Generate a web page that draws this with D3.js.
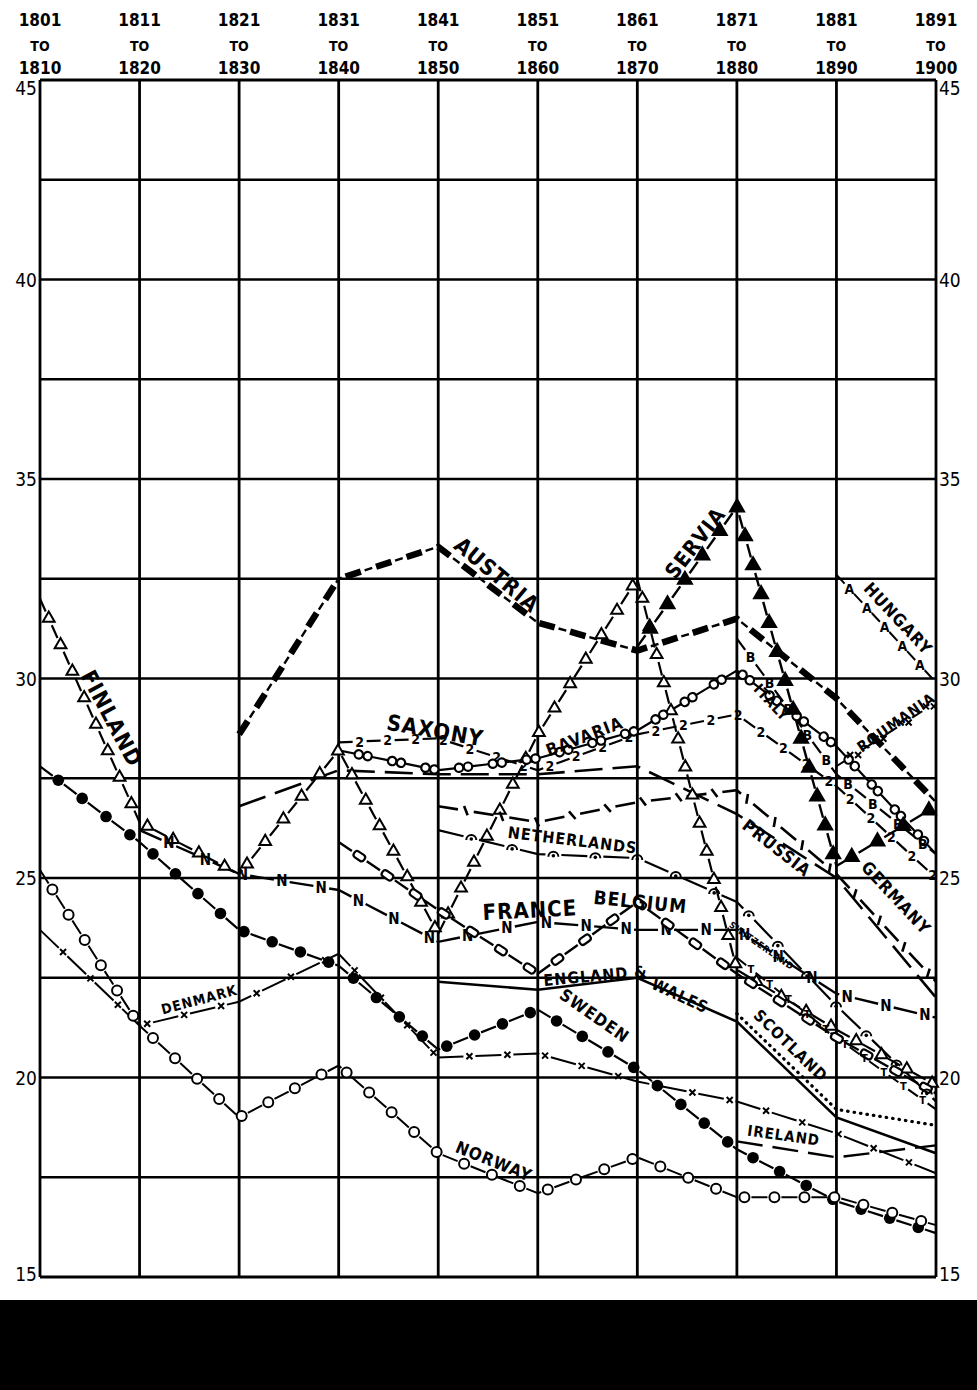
<!DOCTYPE html>
<html>
<head>
<meta charset="utf-8">
<script src="https://cdn.jsdelivr.net/npm/d3@7/dist/d3.min.js"></script>
<style>
  body { margin: 0; background: #fff; }
  svg { display: block; }
  text { font-family: "Liberation Sans Narrow", "DejaVu Sans Condensed", "DejaVu Sans", sans-serif; font-stretch: condensed; font-weight: bold; fill: #000; }
</style>
</head>
<body>
<div id="chart"></div>
<script>
// decades (top labels)
const decadeFrom = ['1801', '1811', '1821', '1831', '1841', '1851', '1861', '1871', '1881', '1891'];
const decadeTo = ['1810', '1820', '1830', '1840', '1850', '1860', '1870', '1880', '1890', '1900'];
const yTicks = [45, 40, 35, 30, 25, 20, 15];

// death rate per 1000, one value per decade (null = no line)
const finland = [32.0, 26.4, 25.1, 28.2, 23.6, 28.6, 32.5, 22.7, 21.2, 19.8];
const sweden = [27.8, 25.9, 23.7, 22.8, 20.7, 21.7, 20.2, 18.2, 16.9, 16.1];
const norway = [25.2, 21.3, 19.0, 20.3, 18.1, 17.1, 18.0, 17.0, 17.0, 16.3];
const denmark = [23.7, 21.3, 21.9, 23.1, 20.5, 20.6, 19.9, 19.4, 18.6, 17.6];
const france = [null, 26.2, 25.1, 24.7, 23.4, 23.9, 23.7, 23.7, 22.1, 21.5];
const austria = [null, null, 28.6, 32.5, 33.3, 31.4, 30.7, 31.5, 29.5, 26.9];
const saxony = [null, null, null, 28.4, 28.5, 27.7, 28.6, 29.1, 27.3, 25.0];
const bavaria = [null, null, null, 28.2, 27.7, 28.0, 28.7, 30.2, 28.3, 25.6];
const prussia = [null, null, 26.8, 27.7, 27.6, 27.6, 27.8, 26.6, 25.0, 22.0];
const germany = [null, null, null, null, 26.8, 26.4, 26.9, 27.2, 25.1, 22.4];
const belgium = [null, null, null, 25.9, 24.2, 22.6, 24.4, 22.6, 21.0, 19.6];
const netherlands = [null, null, null, null, 26.2, 25.6, 25.5, 24.4, 21.8, 19.4];
const england = [null, null, null, null, 22.4, 22.2, 22.5, 21.4, 19.0, 18.1];
const scotland = [null, null, null, null, null, null, null, 21.6, 19.2, 18.8];
const ireland = [null, null, null, null, null, null, null, 18.4, 18.0, 18.3];
const switzerland = [null, null, null, null, null, null, null, 23.0, 21.0, 19.2];
const italy = [null, null, null, null, null, null, null, 31.0, 27.6, 25.6];
const servia = [null, null, null, null, null, null, 30.8, 34.3, 25.3, 26.8];
const hungary = [null, null, null, null, null, null, null, null, 32.6, 29.9];
const roumania = [null, null, null, null, null, null, null, null, 27.8, 29.4];

const series = [
  { key: 'finland', values: finland },
  { key: 'sweden', values: sweden },
  { key: 'norway', values: norway },
  { key: 'denmark', values: denmark },
  { key: 'france', values: france },
  { key: 'austria', values: austria },
  { key: 'saxony', values: saxony },
  { key: 'bavaria', values: bavaria },
  { key: 'prussia', values: prussia },
  { key: 'germany', values: germany },
  { key: 'belgium', values: belgium },
  { key: 'netherlands', values: netherlands },
  { key: 'england', values: england },
  { key: 'scotland', values: scotland },
  { key: 'ireland', values: ireland },
  { key: 'switzerland', values: switzerland },
  { key: 'italy', values: italy },
  { key: 'servia', values: servia },
  { key: 'hungary', values: hungary },
  { key: 'roumania', values: roumania },
];

// line looks: dash length, gap, marker drawn in each gap
const styles = {
  finland: { dash: 14, gap: 15, marker: 'tri', width: 2.2 },
  sweden: { dash: 16, gap: 14, marker: 'dot', width: 2.2 },
  norway: { dash: 16, gap: 14, marker: 'ring', width: 2 },
  denmark: { dash: 26, gap: 12, marker: 'x', width: 2 },
  france: { dash: 24, gap: 16, marker: 'N', width: 2.4 },
  austria: { heavy: true },
  saxony: { dash: 14, gap: 14, marker: '2', width: 2.2 },
  bavaria: { dash: 16, gap: 18, marker: 'inf', width: 2.2 },
  prussia: { dash: 28, gap: 10, width: 2.6 },
  germany: { dash: 20, gap: 16, marker: 'tick', width: 2.6 },
  belgium: { dash: 16, gap: 18, marker: 'rect', width: 2.4 },
  netherlands: { dash: 26, gap: 16, marker: 'target', width: 2.2 },
  england: { solid: true, width: 2.6 },
  scotland: { dotted: true, width: 3 },
  ireland: { dash: 26, gap: 10, width: 2.4 },
  switzerland: { dash: 12, gap: 12, marker: 'T', width: 2 },
  italy: { dash: 14, gap: 18, marker: 'B', width: 2.2 },
  servia: { dash: 14, gap: 16, marker: 'triFill', width: 2.4 },
  hungary: { dash: 12, gap: 14, marker: 'A', width: 2 },
  roumania: { dash: 12, gap: 18, marker: 'xx', width: 2 },
};

// country names, placed in data units (decade index, value)
const labels = [
  { text: 'FINLAND', d: 0.72, v: 29.0, angle: 62, size: 22 },
  { text: 'AUSTRIA', d: 4.59, v: 32.6, angle: 40, size: 22 },
  { text: 'SERVIA', d: 6.58, v: 33.4, angle: -52, size: 21 },
  { text: 'HUNGARY', d: 8.62, v: 31.5, angle: 47, size: 17 },
  { text: 'ROUMANIA', d: 8.6, v: 28.9, angle: -35, size: 15 },
  { text: 'ITALY', d: 7.35, v: 29.4, angle: 47, size: 15 },
  { text: 'SAXONY', d: 3.97, v: 28.7, angle: 10, size: 22 },
  { text: 'BAVARIA', d: 5.47, v: 28.55, angle: -21, size: 17 },
  { text: 'NETHERLANDS', d: 5.35, v: 25.95, angle: 7, size: 16 },
  { text: 'FRANCE', d: 4.92, v: 24.2, angle: -3, size: 22 },
  { text: 'BELGIUM', d: 6.03, v: 24.4, angle: 6, size: 19 },
  { text: 'ENGLAND &', d: 5.58, v: 22.55, angle: -5, size: 16 },
  { text: 'WALES', d: 6.43, v: 22.05, angle: 25, size: 16 },
  { text: 'SWEDEN', d: 5.57, v: 21.55, angle: 35, size: 17 },
  { text: 'SCOTLAND', d: 7.54, v: 20.8, angle: 44, size: 16 },
  { text: 'SWITZERLAND', d: 7.25, v: 23.3, angle: 35, size: 9 },
  { text: 'PRUSSIA', d: 7.4, v: 25.75, angle: 38, size: 17 },
  { text: 'GERMANY', d: 8.6, v: 24.5, angle: 47, size: 17 },
  { text: 'DENMARK', d: 1.6, v: 21.95, angle: -15, size: 14 },
  { text: 'NORWAY', d: 4.56, v: 17.9, angle: 22, size: 17 },
  { text: 'IRELAND', d: 7.47, v: 18.55, angle: 8, size: 15 },
];

const canvasWidth = 977;
const canvasHeight = 1390;
const plot = { left: 40, right: 936, top: 80, bottom: 1277 };

const svg = d3.select('#chart')
  .append('svg')
  .attr('width', canvasWidth)
  .attr('height', canvasHeight)
  .attr('viewBox', `0 0 ${canvasWidth} ${canvasHeight}`);

svg.append('rect')
  .attr('width', canvasWidth)
  .attr('height', canvasHeight)
  .attr('fill', '#fff');

const x = d3.scalePoint()
  .domain(d3.range(decadeFrom.length))
  .range([plot.left, plot.right]);
const y = d3.scaleLinear()
  .domain([15, 45])
  .range([plot.bottom, plot.top]);

const step = x.step();
const xd = d => plot.left + d * step;

// grid
const grid = svg.append('g').attr('class', 'grid');
grid.selectAll('line.v')
  .data(d3.range(decadeFrom.length))
  .enter()
  .append('line')
    .attr('x1', d => x(d))
    .attr('x2', d => x(d))
    .attr('y1', plot.top)
    .attr('y2', plot.bottom)
    .attr('stroke', '#000')
    .attr('stroke-width', 2.8);
grid.selectAll('line.h')
  .data(d3.range(15, 45.01, 2.5))
  .enter()
  .append('line')
    .attr('x1', plot.left)
    .attr('x2', plot.right)
    .attr('y1', d => y(d))
    .attr('y2', d => y(d))
    .attr('stroke', '#000')
    .attr('stroke-width', d => (d === 45 || d === 15 ? 3 : 2.4));

// top decade labels
const topAxis = svg.append('g').attr('class', 'axis axis--top');
const topTick = topAxis.selectAll('g')
  .data(d3.range(decadeFrom.length))
  .enter()
  .append('g')
    .attr('transform', d => `translate(${x(d)},0)`);
topTick.append('text').attr('y', 26).attr('text-anchor', 'middle').style('font-size', '17px').text(d => decadeFrom[d]);
topTick.append('text').attr('y', 51).attr('text-anchor', 'middle').style('font-size', '14px').text('TO');
topTick.append('text').attr('y', 74).attr('text-anchor', 'middle').style('font-size', '17px').text(d => decadeTo[d]);

// side value labels
const labelY = d => (d === 45 ? y(d) + 15 : d === 15 ? y(d) + 4 : y(d) + 7);
const side = svg.append('g').attr('class', 'axis axis--y');
side.selectAll('text.l')
  .data(yTicks)
  .enter()
  .append('text')
    .attr('x', plot.left - 3)
    .attr('y', labelY)
    .attr('text-anchor', 'end')
    .style('font-size', '19px')
    .style('font-weight', 'normal')
    .text(d => d);
side.selectAll('text.r')
  .data(yTicks)
  .enter()
  .append('text')
    .attr('x', plot.right + 3)
    .attr('y', labelY)
    .attr('text-anchor', 'start')
    .style('font-size', '19px')
    .style('font-weight', 'normal')
    .text(d => d);

// lines
const line = d3.line()
  .defined(d => d != null)
  .x((d, i) => x(i))
  .y(d => y(d));

const lines = svg.append('g').attr('class', 'chart__lines');
const markers = svg.append('g').attr('class', 'chart__markers');

function drawMarker(g, type, px, py, ang) {
  const m = g.append('g').attr('transform', `translate(${px},${py})`);
  if (type === 'tri' || type === 'triFill') {
    m.append('path')
      .attr('d', d3.symbol(d3.symbolTriangle, type === 'tri' ? 60 : 85)())
      .attr('fill', type === 'tri' ? '#fff' : '#000')
      .attr('stroke', '#000')
      .attr('stroke-width', 2);
  } else if (type === 'dot') {
    m.append('circle').attr('r', 5.8).attr('fill', '#000');
  } else if (type === 'ring') {
    m.append('circle').attr('r', 5).attr('fill', '#fff').attr('stroke', '#000').attr('stroke-width', 2);
  } else if (type === 'x' || type === 'xx') {
    const offs = type === 'xx' ? [-4, 4] : [0];
    offs.forEach(o => {
      m.append('path')
        .attr('d', `M${o - 3},-3L${o + 3},3M${o - 3},3L${o + 3},-3`)
        .attr('stroke', '#000')
        .attr('stroke-width', 2);
    });
  } else if (type === 'inf') {
    const g2 = m.append('g').attr('transform', `rotate(${ang})`);
    [-4.5, 4.5].forEach(o => g2.append('circle').attr('cx', o).attr('r', 4.2)
      .attr('fill', '#fff').attr('stroke', '#000').attr('stroke-width', 2.2));
  } else if (type === 'rect') {
    m.append('rect')
      .attr('x', -6).attr('y', -3.5).attr('width', 12).attr('height', 7).attr('rx', 3)
      .attr('transform', `rotate(${ang})`)
      .attr('fill', '#fff').attr('stroke', '#000').attr('stroke-width', 2.2);
  } else if (type === 'target') {
    m.append('path').attr('d', 'M-5,2A5,5 0 0 1 5,2').attr('fill', 'none').attr('stroke', '#000').attr('stroke-width', 2);
    m.append('circle').attr('cy', 1).attr('r', 1.8).attr('fill', '#000');
  } else if (type === 'tick') {
    m.append('line')
      .attr('x1', -5).attr('x2', 5)
      .attr('transform', `rotate(${ang + 60})`)
      .attr('stroke', '#000').attr('stroke-width', 2.6);
  } else {
    m.append('text')
      .attr('text-anchor', 'middle')
      .attr('dy', '0.36em')
      .style('font-size', type === 'T' ? '11px' : type === 'N' ? '15px' : '14px')
      .text(type);
  }
}

series.forEach(s => {
  const st = styles[s.key];
  if (st.heavy) {
    lines.append('path').datum(s.values)
      .attr('d', line).attr('fill', 'none').attr('stroke', '#000')
      .attr('stroke-width', 6.5).attr('stroke-dasharray', '16,16');
    lines.append('path').datum(s.values)
      .attr('d', line).attr('fill', 'none').attr('stroke', '#000')
      .attr('stroke-width', 2.4).attr('stroke-dasharray', '0,20,8,4');
    return;
  }
  const path = lines.append('path').datum(s.values)
    .attr('d', line)
    .attr('fill', 'none')
    .attr('stroke', '#000')
    .attr('stroke-width', st.width);
  if (st.dotted) {
    path.attr('stroke-dasharray', '0.5,6').attr('stroke-linecap', 'round').attr('stroke-width', 3.2);
    return;
  }
  if (st.solid) return;
  path.attr('stroke-dasharray', `${st.dash},${st.gap}`);
  if (!st.marker) return;
  const node = path.node();
  const total = node.getTotalLength();
  const period = st.dash + st.gap;
  for (let s0 = st.dash + st.gap / 2; s0 < total - 4; s0 += period) {
    const p = node.getPointAtLength(s0);
    const q = node.getPointAtLength(Math.min(total, s0 + 1));
    const ang = Math.atan2(q.y - p.y, q.x - p.x) * 180 / Math.PI;
    drawMarker(markers, st.marker, p.x, p.y, ang);
  }
});

// country names
svg.append('g').attr('class', 'chart__labels')
  .selectAll('text')
  .data(labels)
  .enter()
  .append('text')
    .attr('transform', d => `translate(${xd(d.d)},${y(d.v)}) rotate(${d.angle})`)
    .attr('text-anchor', 'middle')
    .attr('dy', '0.35em')
    .style('font-size', d => `${d.size}px`)
    .style('letter-spacing', '1px')
    .text(d => d.text);

// dark band under the print
svg.append('rect')
  .attr('x', 0)
  .attr('y', 1300)
  .attr('width', canvasWidth)
  .attr('height', canvasHeight - 1300)
  .attr('fill', '#000');
</script>
</body>
</html>
